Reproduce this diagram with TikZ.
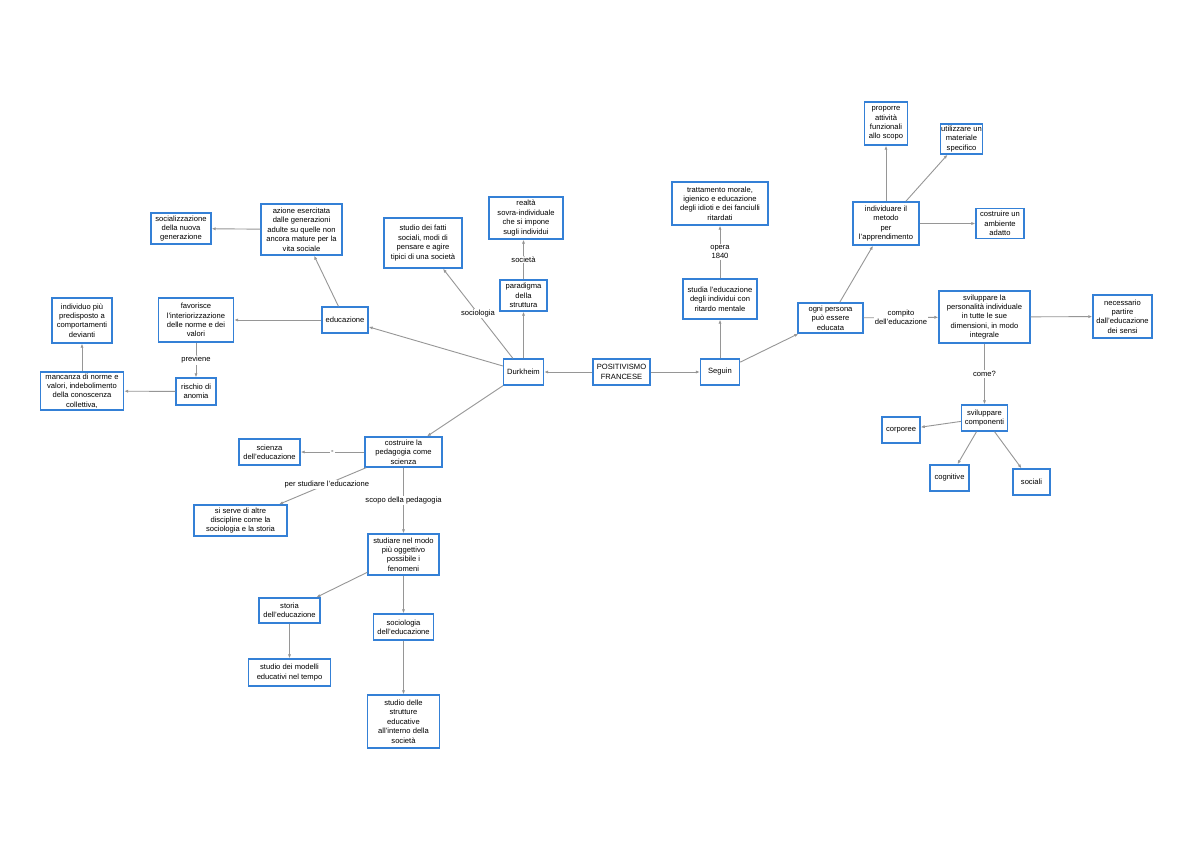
\documentclass[tikz,border=0pt]{standalone}
\usepackage{fontspec}
\setmainfont{Liberation Sans}
\usetikzlibrary{arrows.meta}
\definecolor{boxblue}{RGB}{52,128,214}
\definecolor{edgegray}{RGB}{150,150,150}
\newcommand\fs{\fontsize{7.6}{9.4}\selectfont}
\tikzset{
  box/.style={draw=boxblue, line width=1.4pt, fill=white, inner sep=1pt, align=center, font=\fs},
  sz/.style 2 args={minimum width=#1pt, minimum height=#2pt},
  conn/.style={draw=edgegray, line width=0.9pt, -{Latex[length=4pt,width=3.2pt]}},
  lbl/.style={fill=white, font=\fs, inner sep=1pt, align=center, text=black}
}
\begin{document}
\begin{tikzpicture}[x=1pt,y=-1pt]
\fill[white] (0,0) rectangle (1200,849);
\useasboundingbox (0,0) rectangle (1200,849);
% nodes
\node[box, sz={60}{31}] (soc) at (181,228.5) {socializzazione\\della nuova\\generazione};
\node[box, sz={81}{51}] (azione) at (301.5,229.5) {azione esercitata\\dalle generazioni\\adulte su quelle non\\ancora mature per la\\vita sociale};
\node[box, sz={78}{50}] (fatti) at (423,243) {studio dei fatti\\sociali, modi di\\pensare e agire\\tipici di una società};
\node[box, sz={74}{42}] (realta) at (526,218) {realtà\\sovra-individuale\\che si impone\\sugli individui};
\node[box, sz={47}{31}] (parad) at (523.5,295.5) {paradigma\\della\\struttura};
\node[box, sz={40}{26}] (durk) at (523.5,372) {Durkheim};
\node[box, sz={57}{26}] (pos) at (621.5,372) {POSITIVISMO\\FRANCESE};
\node[box, sz={39}{26}] (seguin) at (720,372) {Seguin};
\node[box, sz={74}{40}] (studia) at (720,299) {studia l'educazione\\degli individui con\\ritardo mentale};
\node[box, sz={96}{43}] (tratt) at (720,203.5) {trattamento morale,\\igienico e educazione\\degli idioti e dei fanciulli\\ritardati};
\node[box, sz={65}{30}] (ogni) at (830.5,318) {ogni persona\\può essere\\educata};
\node[box, sz={91}{52}] (svil) at (984.5,317) {sviluppare la\\personalità individuale\\in tutte le sue\\dimensioni, in modo\\integrale};
\node[box, sz={59}{43}] (nec) at (1122.5,316.5) {necessario\\partire\\dall'educazione\\dei sensi};
\node[box, sz={66}{43}] (metodo) at (886,223.5) {individuare il\\metodo\\per\\l'apprendimento};
\node[box, sz={43}{43}] (proporre) at (886,123.5) {proporre\\attività\\funzionali\\allo scopo};
\node[box, sz={41}{30}] (utilizz) at (961.5,139) {utilizzare un\\materiale\\specifico};
\node[box, sz={48}{30}] (ambiente) at (1000,223.5) {costruire un\\ambiente\\adatto};
\node[box, sz={46}{26}] (comp) at (984.5,418) {sviluppare\\componenti};
\node[box, sz={38}{26}] (corp) at (901,430) {corporee};
\node[box, sz={39}{26}] (cogn) at (949.5,478) {cognitive};
\node[box, sz={37}{26}] (soci) at (1031.5,482) {sociali};
\node[box, sz={46}{26}] (edu) at (345,320) {educazione};
\node[box, sz={75}{44}] (fav) at (196,320) {favorisce\\l'interiorizzazione\\delle norme e dei\\valori};
\node[box, sz={40}{27}] (risc) at (196,391.5) {rischio di\\anomia};
\node[box, sz={83}{38}] (manc) at (82,391) {mancanza di norme e\\valori, indebolimento\\della conoscenza\\collettiva,};
\node[box, sz={60}{45}] (indiv) at (82,320.5) {individuo più\\predisposto a\\comportamenti\\devianti};
\node[box, sz={77}{30}] (costr) at (403.5,452) {costruire la\\pedagogia come\\scienza};
\node[box, sz={61}{26}] (scienza) at (269.5,452) {scienza\\dell'educazione};
\node[box, sz={93}{31}] (siserve) at (240.5,520.5) {si serve di altre\\discipline come la\\sociologia e la storia};
\node[box, sz={71}{41}] (studiare) at (403.5,554.5) {studiare nel modo\\più oggettivo\\possibile i\\fenomeni};
\node[box, sz={61}{25}] (storia) at (289.5,610.5) {storia\\dell'educazione};
\node[box, sz={60}{26}] (sociol) at (403.5,627) {sociologia\\dell'educazione};
\node[box, sz={82}{27}] (modelli) at (289.5,672.5) {studio dei modelli\\educativi nel tempo};
\node[box, sz={72}{53}] (strutt) at (403.5,721.5) {studio delle\\strutture\\educative\\all'interno della\\società};
% connectors
\draw[conn] (pos) -- (durk);
\draw[conn] (pos) -- (seguin);
\draw[conn] (durk) -- (parad);
\draw[conn] (parad.north) -- node[lbl]{società} (parad.north |- realta.south);
\draw[conn] (durk) -- node[lbl]{sociologia} (fatti);
\draw[conn] (durk) -- (edu);
\draw[conn] (durk) -- (costr);
\draw[conn] (edu) -- (azione);
\draw[conn] (azione) -- (soc);
\draw[conn] (edu) -- (fav);
\draw[conn] (fav) -- node[lbl]{previene} (risc);
\draw[conn] (risc) -- (manc);
\draw[conn] (manc) -- (indiv);
\draw[conn] (costr) -- node[lbl]{-} (scienza);
\draw[conn] (costr) -- node[lbl, pos=0.45]{per studiare l'educazione} (siserve);
\draw[conn] (costr) -- node[lbl]{scopo della pedagogia} (studiare);
\draw[conn] (studiare) -- (storia);
\draw[conn] (studiare) -- (sociol);
\draw[conn] (storia) -- (modelli);
\draw[conn] (sociol) -- (strutt);
\draw[conn] (seguin) -- (studia);
\draw[conn] (studia) -- node[lbl]{opera\\1840} (tratt);
\draw[conn] (seguin) -- (ogni);
\draw[conn] (ogni) -- (metodo);
\draw[conn] (metodo) -- (proporre);
\draw[conn] (metodo) -- (utilizz);
\draw[conn] (metodo) -- (ambiente);
\draw[conn] (ogni) -- node[lbl]{compito\\dell'educazione} (svil);
\draw[conn] (svil) -- (nec);
\draw[conn] (svil) -- node[lbl]{come?} (comp);
\draw[conn] (comp) -- (corp);
\draw[conn] (comp) -- (cogn);
\draw[conn] (comp) -- (soci);
\end{tikzpicture}
\end{document}
